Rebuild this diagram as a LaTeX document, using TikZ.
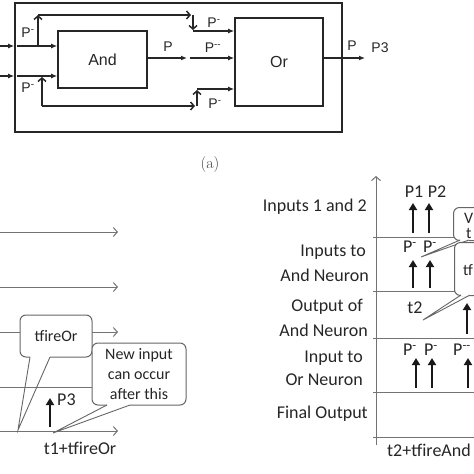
\documentclass[tikz,border=0pt]{standalone}
\usepackage{fontspec}
\setmainfont{Liberation Sans}
\newfontfamily\carl{Carlito}
\usetikzlibrary{arrows.meta}
\newcommand{\pmin}{P\textsuperscript{-}}
\newcommand{\pmm}{P\textsuperscript{-{}-}}
\tikzset{
  blkbox/.style={draw=black!85, line width=1.6pt, inner sep=0pt, font=\fontsize{16}{18}\selectfont, text=black!85},
  farr/.style={draw=black!85, line width=1.5pt, -{Latex[length=6pt,width=5pt]}},
  oarr/.style={draw=black!85, line width=1.5pt, -{Straight Barb[length=3.5pt,width=8pt]}},
  plab/.style={font=\fontsize{14}{16}\selectfont, text=black!85, inner sep=0pt},
  tl/.style={draw=black!55, line width=1pt, -{Straight Barb[length=4pt,width=9pt]}},
  hl/.style={draw=black!55, line width=1pt},
  lab/.style={font=\carl\fontsize{18}{21}\selectfont, text=black!85, inner sep=0pt},
  clab/.style={font=\carl\fontsize{16}{20}\selectfont, text=black!85},
  callbox/.style={draw=black!60, line width=1pt, rounded corners=6pt, fill=white, inner sep=2pt, align=center, font=\carl\fontsize{16}{20}\selectfont, text=black!85},
  ptr/.style={draw=black!60, line width=0.9pt},
  parr/.style={draw=black!90, line width=2.8pt, -{Triangle[length=7pt,width=8pt]}},
}
\begin{document}
\begin{tikzpicture}[x=1pt,y=-1pt]
\useasboundingbox (0,0) rectangle (474,474);
\clip (0,0) rectangle (474,474);
% ---------------- (a) block diagram ----------------
\node[blkbox, minimum width=327pt, minimum height=129pt] (outer) at (178.5,67.5) {};
\node[blkbox, minimum width=89pt, minimum height=57pt] (and) at (102.5,59.5) {And};
\node[blkbox, minimum width=88pt, minimum height=88pt] (or) at (279,62) {Or};
% inputs
\coordinate (in1) at (-2,46);
\coordinate (in1s) at (17,46);
\coordinate (in2) at (-2,76);
\coordinate (in2s) at (17,76);
\draw[farr] (in1) -- (outer.west |- in1);
\draw[farr] (in1s) -- (and.west |- in1s);
\draw[farr] (in2) -- (outer.west |- in2);
\draw[farr] (in2s) -- (and.west |- in2s);
% top branch
\coordinate (b1) at (38,46);
\coordinate (t1) at (38,15);
\coordinate (t2) at (191,15);
\coordinate (t3) at (193,15);
\coordinate (t4) at (193,30);
\coordinate (t5) at (193,31);
\draw[oarr] (b1) -- (t1);
\draw[oarr] (t1) -- (t2);
\draw[oarr] (t3) -- (t4);
\draw[farr] (t5) -- (or.west |- t5);
% middle
\coordinate (m1) at (187,58);
\coordinate (m2) at (190,58);
\draw[farr] (and.east |- m1) -- (m1);
\draw[farr] (m2) -- (or.west |- m2);
% bottom branch
\coordinate (c1) at (42,106);
\coordinate (c0) at (42,77);
\coordinate (c2) at (195,106);
\coordinate (c3) at (197,106);
\coordinate (c4) at (197,90);
\coordinate (c5) at (197,89);
\draw[oarr] (c1) -- (c0);
\draw[oarr] (c1) -- (c2);
\draw[oarr] (c3) -- (c4);
\draw[farr] (c5) -- (or.west |- c5);
% output
\coordinate (out) at (365,58);
\draw[farr] (or.east |- out) -- (out);
% labels
\node[plab] (lp1) at (28,33) {\pmin};
\node[plab] (lp2) at (28,88) {\pmin};
\node[plab] (lp3) at (214,23) {\pmin};
\node[plab] (lp4) at (168,47) {P};
\node[plab] (lp5) at (213,48) {\pmm};
\node[plab] (lp6) at (215,104) {\pmin};
\node[plab] (lp7) at (352,46) {P};
\node[plab] (lp8) at (380,48) {P3};
\node[font=\fontsize{16}{18}\selectfont, text=black!75, inner sep=0pt] (cap) at (210,165) {\fontspec{Latin Modern Roman}(a)};
% ---------------- left timing diagram ----------------
\foreach \yy/\nm in {232/la,287/lb,332/lc,387/ld,431/le}{
  \coordinate (\nm s) at (-2,\yy);
  \coordinate (\nm e) at (118,\yy);
  \draw[tl] (\nm s) -- (\nm e);
}
\coordinate (p3b) at (50,427);
\coordinate (p3t) at (50,398);
\draw[parr] (p3b) -- (p3t);
\node[lab, anchor=west] (p3) at (57,400) {P3};
\node[lab] (t1f) at (80,448) {t1+tfireOr};
% callout tfireOr
\node[callbox, minimum width=72pt, minimum height=42pt] (co1) at (56,336) {tfireOr};
\coordinate (co1a) at (30,357);
\coordinate (co1b) at (50,357);
\coordinate (co1t) at (18,430);
\draw[white, line width=1.6pt] (co1a) -- (co1b);
\draw[ptr] (co1a) -- (co1t) -- (co1b);
% callout new input
\node[callbox, minimum width=94pt, minimum height=62pt] (co2) at (139,374) {New input\\can occur\\after this};
\coordinate (co2a) at (107,405);
\coordinate (co2b) at (130,405);
\coordinate (co2t) at (53,433);
\draw[white, line width=1.6pt] (co2a) -- (co2b);
\draw[ptr] (co2a) -- (co2t) -- (co2b);
% ---------------- right timing diagram ----------------
\coordinate (ax0) at (376,445);
\coordinate (ax1) at (376,176);
\draw[tl] (ax0) -- (ax1);
\foreach \yy/\nm in {237/ra,291/rb,338/rc,392/rd,437/re}{
  \coordinate (\nm s) at (373,\yy);
  \coordinate (\nm e) at (480,\yy);
  \draw[hl] (\nm s) -- (\nm e);
}
\node[lab, anchor=east] (r1) at (367,207) {Inputs 1 and 2};
\node[lab, anchor=east] (r2) at (366,252) {Inputs to};
\node[lab, anchor=east] (r3) at (369,275) {And Neuron};
\node[lab, anchor=east] (r4) at (363,307) {Output of};
\node[lab, anchor=east] (r5) at (368,330) {And Neuron};
\node[lab, anchor=east] (r6) at (363,358) {Input to};
\node[lab, anchor=east] (r7) at (363,380) {Or Neuron};
\node[lab, anchor=east] (r8) at (368,414) {Final Output};
\node[lab] (r9) at (429,450) {t2+tfireAnd};
% arrows
\foreach \xx/\nm in {413/a1,429/a2}{
  \coordinate (\nm b) at (\xx,233); \coordinate (\nm t) at (\xx,203);
  \draw[parr] (\nm b) -- (\nm t);}
\foreach \xx/\nm in {413/b1,430/b2}{
  \coordinate (\nm b) at (\xx,288); \coordinate (\nm t) at (\xx,260);
  \draw[parr] (\nm b) -- (\nm t);}
\coordinate (c1b) at (467,334); \coordinate (c1t) at (467,303);
\draw[parr] (c1b) -- (c1t);
\foreach \xx/\nm in {416/d1,432/d2,468/d3}{
  \coordinate (\nm b) at (\xx,388); \coordinate (\nm t) at (\xx,358);
  \draw[parr] (\nm b) -- (\nm t);}
\node[lab] (q1) at (414,192) {P1};
\node[lab] (q2) at (437,192) {P2};
\node[lab] (q3) at (410,247) {\pmin};
\node[lab] (q4) at (430,247) {\pmin};
\node[lab] (q5) at (415,308) {t2};
\node[lab] (q6) at (410,350) {\pmin};
\node[lab] (q7) at (431,350) {\pmin};
\node[lab] (q8) at (462,350) {\pmm};
% right callouts
\node[callbox, anchor=north west, minimum width=70pt, minimum height=33pt] (co3) at (453,207) {};
\node[clab, anchor=west, inner sep=0pt] (co3a) at (464,218) {V};
\node[clab, anchor=west, inner sep=0pt] (co3b) at (466,233) {t};
\coordinate (co3p) at (460,240);
\coordinate (co3q) at (469,240);
\coordinate (co3t) at (421,257);
\draw[white, line width=1.6pt] (co3p) -- (co3q);
\draw[ptr] (co3p) -- (co3t) -- (co3q);
\node[callbox, anchor=north west, minimum width=70pt, minimum height=53pt] (co4) at (454,242) {};
\node[clab, anchor=west, inner sep=0pt] (co4a) at (463,270) {tf};
\coordinate (co4p) at (461,295);
\coordinate (co4q) at (470,295);
\coordinate (co4t) at (423,320);
\draw[white, line width=1.6pt] (co4p) -- (co4q);
\draw[ptr] (co4p) -- (co4t) -- (co4q);
\end{tikzpicture}
\end{document}
